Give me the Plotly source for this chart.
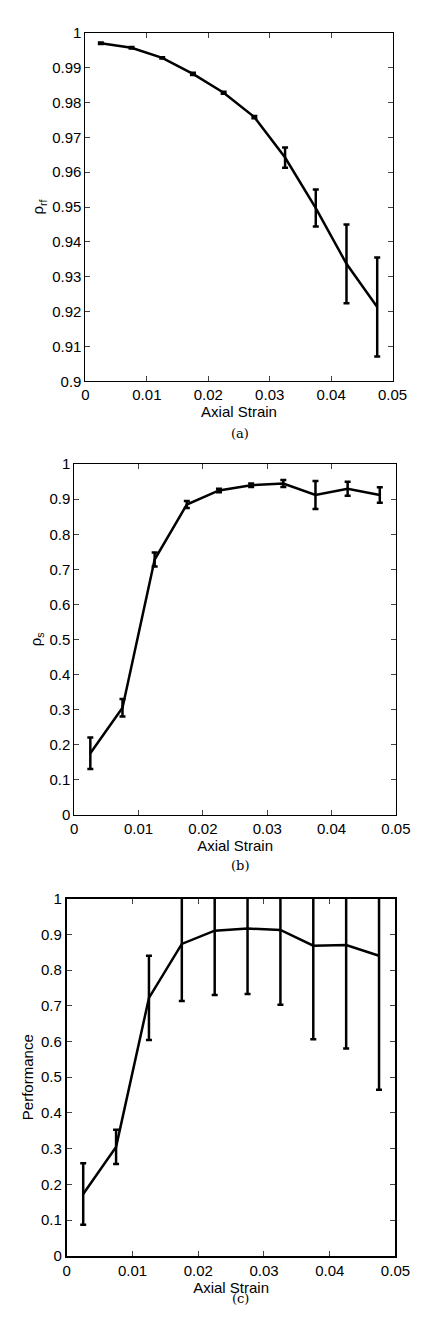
import plotly.graph_objects as go

# Axial strain bins (bin centres)
strain = [0.0025, 0.0075, 0.0125, 0.0175, 0.0225, 0.0275, 0.0325, 0.0375, 0.0425, 0.0475]

# (a) rho_rf
rho_rf = [0.997, 0.9957, 0.9928, 0.9882, 0.9828, 0.9758, 0.9642, 0.9497, 0.9337, 0.9213]
rho_rf_err = [0.0002, 0.0002, 0.0002, 0.0003, 0.0003, 0.0003, 0.0029, 0.0053, 0.0113, 0.0142]

# (b) rho_s
rho_s = [0.175, 0.305, 0.728, 0.885, 0.925, 0.94, 0.945, 0.912, 0.93, 0.912]
rho_s_err = [0.045, 0.025, 0.02, 0.01, 0.005, 0.005, 0.01, 0.04, 0.02, 0.022]

# (c) performance
perf = [0.173, 0.305, 0.722, 0.873, 0.91, 0.916, 0.912, 0.868, 0.87, 0.84]
perf_err = [0.086, 0.048, 0.118, 0.16, 0.18, 0.183, 0.209, 0.262, 0.29, 0.375]

x_ticks = [0, 0.01, 0.02, 0.03, 0.04, 0.05]
x_labels = ["0", "0.01", "0.02", "0.03", "0.04", "0.05"]
y_ticks01 = [0, 0.1, 0.2, 0.3, 0.4, 0.5, 0.6, 0.7, 0.8, 0.9, 1]
y_labels01 = ["0", "0.1", "0.2", "0.3", "0.4", "0.5", "0.6", "0.7", "0.8", "0.9", "1"]

fig = go.Figure()
panels = [
    (rho_rf, rho_rf_err, "", "y"),
    (rho_s, rho_s_err, "2", "y2"),
    (perf, perf_err, "3", "y3"),
]
for vals, errs, sfx, ya in panels:
    fig.add_trace(go.Scatter(
        x=strain, y=vals, mode="lines", xaxis="x" + sfx, yaxis=ya,
        line=dict(color="black", width=2.5),
        error_y=dict(type="data", array=errs, color="black", thickness=2.5, width=3),
        showlegend=False))

H = 1324
def dom(top, bot):
    return [1 - bot / H, 1 - top / H]

tickfont = dict(family="Liberation Sans, Arial", size=15, color="black")
def xax(d, anchor, lw):
    return dict(domain=d, anchor=anchor, range=[0, 0.05], tickvals=x_ticks, ticktext=x_labels,
                ticks="inside", ticklen=5, mirror="ticks", showline=True, linecolor="black", linewidth=lw,
                showgrid=False, zeroline=False, tickfont=tickfont,
                title=dict(text="Axial Strain", font=tickfont, standoff=0))
def yax(d, anchor, rng, title, lw, **kw):
    return dict(domain=d, anchor=anchor, range=rng,
                ticks="inside", ticklen=5, mirror="ticks", showline=True, linecolor="black", linewidth=lw,
                showgrid=False, zeroline=False, tickfont=tickfont,
                title=dict(text=title, font=tickfont, standoff=4), **kw)

fig.update_layout(
    width=434, height=H, margin=dict(l=0, r=0, t=0, b=0),
    plot_bgcolor="white", paper_bgcolor="white",
    xaxis=xax([0.177, 0.917], "y", 1),
    yaxis=yax(dom(16, 369), "x", [0.9, 1.0], "ρ<sub>rf</sub>", 1, dtick=0.01),
    xaxis2=xax([0.15, 0.925], "y2", 1),
    yaxis2=yax(dom(453, 808), "x2", [0, 1], "ρ<sub>s</sub>", 1, tickvals=y_ticks01, ticktext=y_labels01),
    xaxis3=xax([0.132, 0.924], "y3", 2),
    yaxis3=yax(dom(893, 1255), "x3", [0, 1], "Performance", 2, tickvals=y_ticks01, ticktext=y_labels01),
)

for label, ypix in [("(a)", 412), ("(b)", 860), ("(c)", 1308)]:
    fig.add_annotation(text=label, x=0.55, y=1 - ypix / H, xref="paper", yref="paper",
                       showarrow=False, font=dict(family="DejaVu Serif", size=13, color="black"))

fig.write_html("out.html")
